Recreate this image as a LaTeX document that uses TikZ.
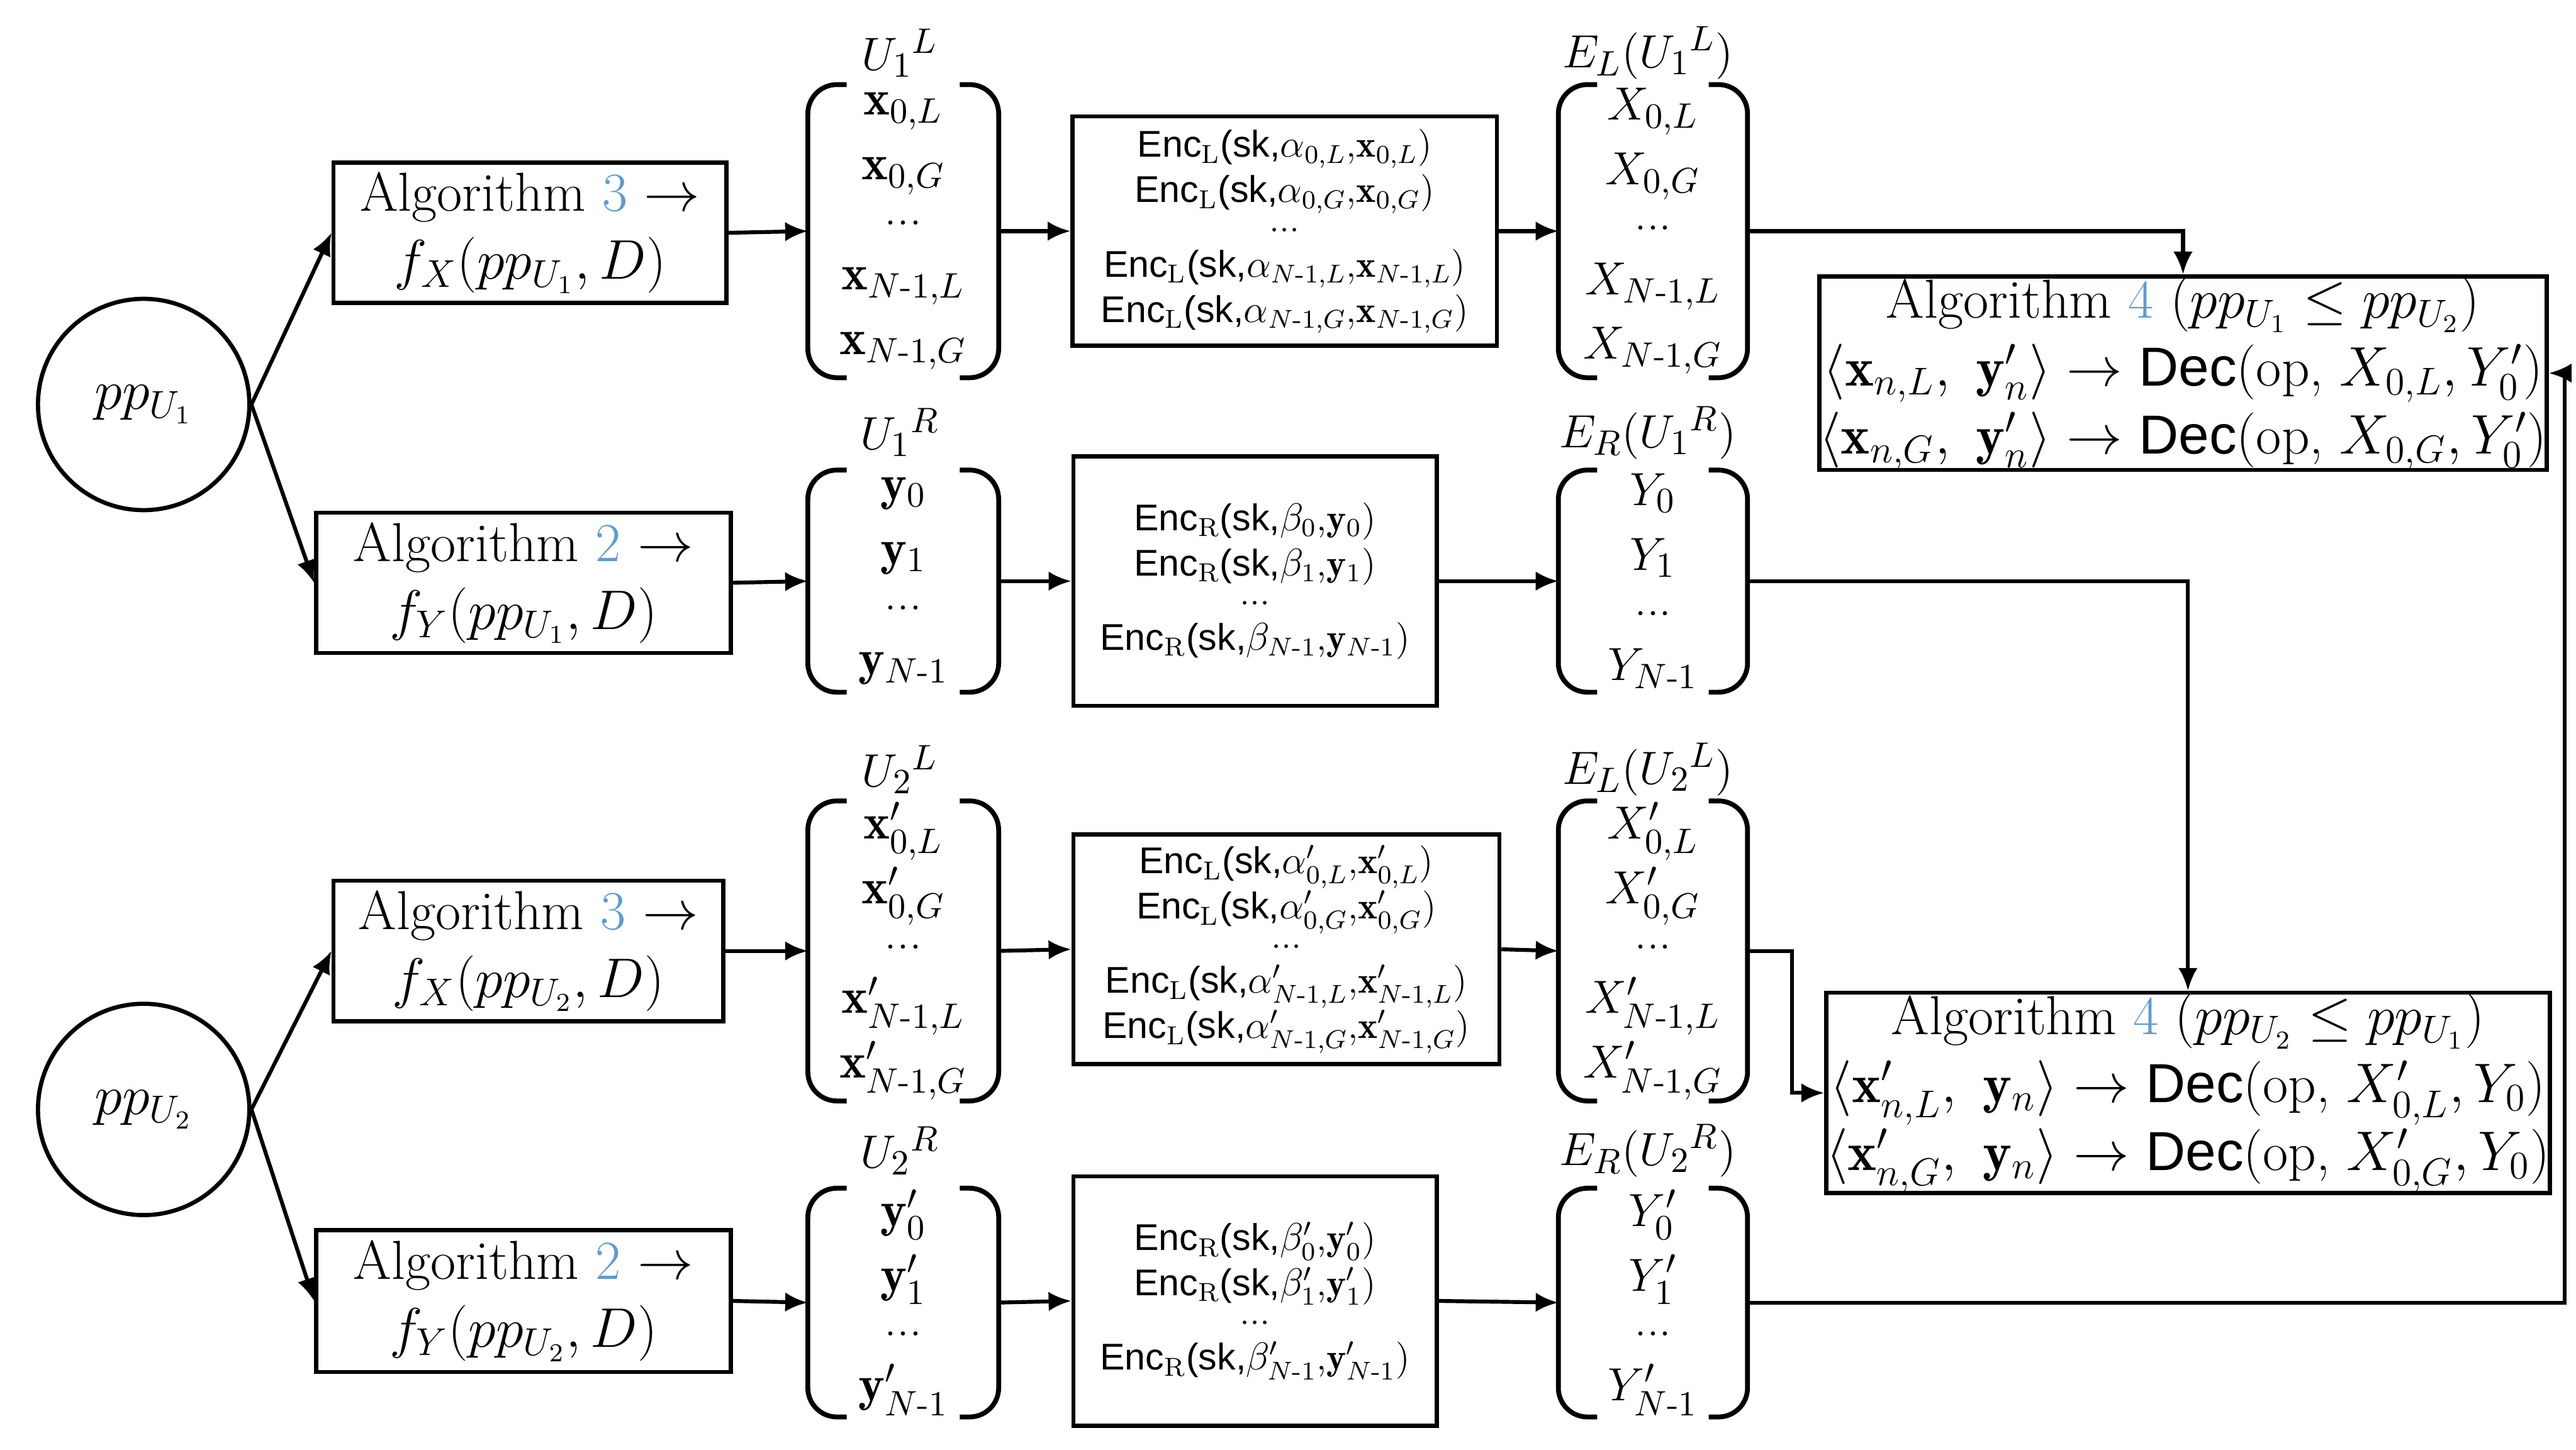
\documentclass[tikz,border=0pt]{standalone}
\usepackage{amsmath}
\usepackage{fontspec}
\setsansfont{Liberation Sans}
\usetikzlibrary{arrows.meta}
\definecolor{algblue}{RGB}{91,155,213}
\newlength{\px}
\setlength{\px}{0.01795cm}
\newcommand{\algo}[1]{Algorithm \textcolor{algblue}{#1}}
\newcommand{\enc}[2]{\textsf{Enc}\textsubscript{#1}\textsf{(sk,}#2)}
\begin{document}
\begin{tikzpicture}[x=0.01795cm,y=-0.01795cm,thick,
  every node/.style={align=center,inner sep=0pt},
  alg/.style={draw,line width=1.3pt,font=\fontsize{17}{21}\selectfont},
  enc/.style={draw,line width=1.3pt,font=\fontsize{11.5}{14}\selectfont},
  vec/.style={font=\fontsize{15.5}{20}\selectfont},
  lab/.style={font=\fontsize{15.5}{18}\selectfont},
  arr/.style={line width=1.2pt,-{Latex[length=7pt,width=6pt]}}]
\useasboundingbox (0,0) rectangle (1560,878);
% users
\node[draw,circle,line width=1.3pt,minimum size=128\px,font=\fontsize{17}{20}\selectfont] (pp1) at (87,245) {$pp_{U_1}$};
\node[draw,circle,line width=1.3pt,minimum size=128\px,font=\fontsize{17}{20}\selectfont] (pp2) at (87,672) {$pp_{U_2}$};
% algorithms 2 and 3
\node[alg,minimum width=238\px,minimum height=85\px] (a3u) at (321,141) {\algo{3} $\rightarrow$\\ $f_X(pp_{U_1},D)$};
\node[alg,minimum width=251\px,minimum height=85\px] (a2u) at (317,353) {\algo{2} $\rightarrow$\\ $f_Y(pp_{U_1},D)$};
\node[alg,minimum width=236\px,minimum height=85\px] (a3v) at (320,576) {\algo{3} $\rightarrow$\\ $f_X(pp_{U_2},D)$};
\node[alg,minimum width=251\px,minimum height=86\px] (a2v) at (317,788) {\algo{2} $\rightarrow$\\ $f_Y(pp_{U_2},D)$};
% plaintext vectors
\node[vec,minimum width=114\px,minimum height=176\px] (u1l) at (547,140) {$\mathbf{x}_{0,L}$\\ $\mathbf{x}_{0,G}$\\[-6pt] ...\\ $\mathbf{x}_{N\text{-}1,L}$\\ $\mathbf{x}_{N\text{-}1,G}$};
\node[vec,minimum width=114\px,minimum height=133\px] (u1r) at (547,352) {$\mathbf{y}_0$\\ $\mathbf{y}_1$\\[-6pt] ...\\ $\mathbf{y}_{N\text{-}1}$};
\node[vec,minimum width=114\px,minimum height=172\px] (u2l) at (547,576) {$\mathbf{x}'_{0,L}$\\ $\mathbf{x}'_{0,G}$\\[-6pt] ...\\ $\mathbf{x}'_{N\text{-}1,L}$\\ $\mathbf{x}'_{N\text{-}1,G}$};
\node[vec,minimum width=114\px,minimum height=137\px] (u2r) at (547,789) {$\mathbf{y}'_0$\\ $\mathbf{y}'_1$\\[-6pt] ...\\ $\mathbf{y}'_{N\text{-}1}$};
\node[lab] at (545,32) {$U_1{}^L$};
\node[lab] at (545,262) {$U_1{}^R$};
\node[lab] at (545,466) {$U_2{}^L$};
\node[lab] at (545,697) {$U_2{}^R$};
% encryptions
\node[enc,minimum width=257\px,minimum height=139\px] (e1l) at (778,140) {\enc{L}{$\alpha_{0,L}$,$\mathbf{x}_{0,L}$}\\ \enc{L}{$\alpha_{0,G}$,$\mathbf{x}_{0,G}$}\\[-5pt] ...\\ \enc{L}{$\alpha_{N\text{-}1,L}$,$\mathbf{x}_{N\text{-}1,L}$}\\ \enc{L}{$\alpha_{N\text{-}1,G}$,$\mathbf{x}_{N\text{-}1,G}$}};
\node[enc,minimum width=220\px,minimum height=151\px] (e1r) at (760,352) {\enc{R}{$\beta_0$,$\mathbf{y}_0$}\\ \enc{R}{$\beta_1$,$\mathbf{y}_1$}\\[-5pt] ...\\ \enc{R}{$\beta_{N\text{-}1}$,$\mathbf{y}_{N\text{-}1}$}};
\node[enc,minimum width=258\px,minimum height=139\px] (e2l) at (779,575) {\enc{L}{$\alpha'_{0,L}$,$\mathbf{x}'_{0,L}$}\\ \enc{L}{$\alpha'_{0,G}$,$\mathbf{x}'_{0,G}$}\\[-5pt] ...\\ \enc{L}{$\alpha'_{N\text{-}1,L}$,$\mathbf{x}'_{N\text{-}1,L}$}\\ \enc{L}{$\alpha'_{N\text{-}1,G}$,$\mathbf{x}'_{N\text{-}1,G}$}};
\node[enc,minimum width=220\px,minimum height=151\px] (e2r) at (760,788) {\enc{R}{$\beta'_0$,$\mathbf{y}'_0$}\\ \enc{R}{$\beta'_1$,$\mathbf{y}'_1$}\\[-5pt] ...\\ \enc{R}{$\beta'_{N\text{-}1}$,$\mathbf{y}'_{N\text{-}1}$}};
% ciphertext vectors
\node[vec,minimum width=113\px,minimum height=176\px] (c1l) at (1001,140) {$X_{0,L}$\\ $X_{0,G}$\\[-6pt] ...\\ $X_{N\text{-}1,L}$\\ $X_{N\text{-}1,G}$};
\node[vec,minimum width=113\px,minimum height=133\px] (c1r) at (1001,352) {$Y_0$\\ $Y_1$\\[-6pt] ...\\ $Y_{N\text{-}1}$};
\node[vec,minimum width=113\px,minimum height=172\px] (c2l) at (1001,576) {$X'_{0,L}$\\ $X'_{0,G}$\\[-6pt] ...\\ $X'_{N\text{-}1,L}$\\ $X'_{N\text{-}1,G}$};
\node[vec,minimum width=113\px,minimum height=137\px] (c2r) at (1001,789) {$Y'_0$\\ $Y'_1$\\[-6pt] ...\\ $Y'_{N\text{-}1}$};
\node[lab] at (998,32) {$E_L(U_1{}^L)$};
\node[lab] at (998,262) {$E_R(U_1{}^R)$};
\node[lab] at (998,466) {$E_L(U_2{}^L)$};
\node[lab] at (998,697) {$E_R(U_2{}^R)$};
% comparisons
\node[alg,minimum width=424\px,minimum height=116\px] (cmp1) at (1322,226) {\algo{4} $(pp_{U_1}\le pp_{U_2})$\\ $\langle\mathbf{x}_{n,L},\ \mathbf{y}'_n\rangle\rightarrow$ \textsf{Dec}(op, $X_{0,L},Y'_0$)\\ $\langle\mathbf{x}_{n,G},\ \mathbf{y}'_n\rangle\rightarrow$ \textsf{Dec}(op, $X_{0,G},Y'_0$)};
\node[alg,minimum width=424\px,minimum height=116\px] (cmp2) at (1325,662) {\algo{4} $(pp_{U_2}\le pp_{U_1})$\\ $\langle\mathbf{x}'_{n,L},\ \mathbf{y}_n\rangle\rightarrow$ \textsf{Dec}(op, $X'_{0,L},Y_0$)\\ $\langle\mathbf{x}'_{n,G},\ \mathbf{y}_n\rangle\rightarrow$ \textsf{Dec}(op, $X'_{0,G},Y_0$)};
% brackets
\foreach \n in {u1l,u1r,u2l,u2r,c1l,c1r,c2l,c2r} {
  \draw[line width=1.5pt,rounded corners=9pt] ([xshift=12pt]\n.north west) -- (\n.north west) -- (\n.south west) -- ([xshift=12pt]\n.south west);
  \draw[line width=1.5pt,rounded corners=9pt] ([xshift=-12pt]\n.north east) -- (\n.north east) -- (\n.south east) -- ([xshift=-12pt]\n.south east);
}
% connectors
\draw[arr] (pp1.east) -- (a3u.west);
\draw[arr] (pp1.east) -- (a2u.west);
\draw[arr] (pp2.east) -- (a3v.west);
\draw[arr] (pp2.east) -- (a2v.west);
\foreach \a/\b/\c/\d in {a3u/u1l/e1l/c1l,a2u/u1r/e1r/c1r,a3v/u2l/e2l/c2l,a2v/u2r/e2r/c2r} {
  \draw[arr] (\a.east) -- (\b.west);
  \draw[arr] (\b.east) -- (\c.west);
  \draw[arr] (\c.east) -- (\d.west);
}
\draw[arr] (c1l.east) -| (cmp1.north);
\draw[arr] (c1r.east) -| (cmp2.north);
\draw[arr] (c2l.east) -- ++(27,0) |- (cmp2.west);
\draw[arr] (c2r.east) -- (1553,789) |- (cmp1.east);
\end{tikzpicture}
\end{document}
